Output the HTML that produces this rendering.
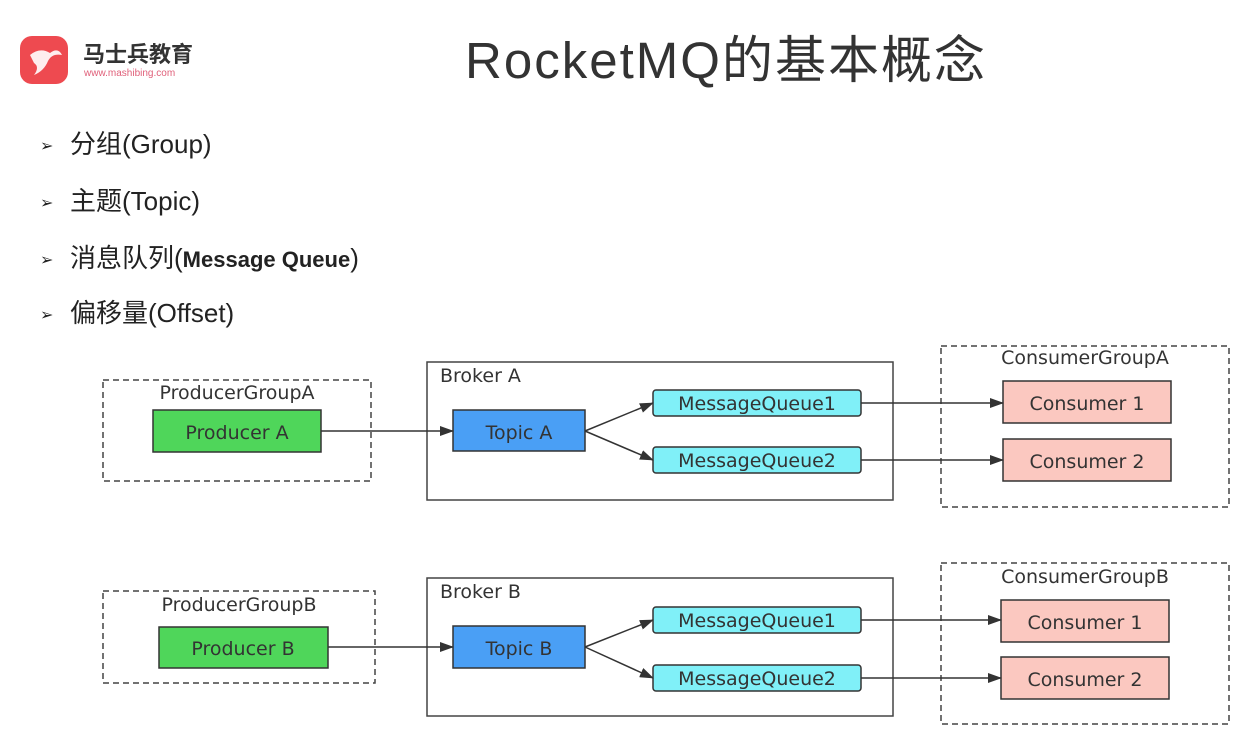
<!DOCTYPE html>
<html><head><meta charset="utf-8"><style>
body{margin:0;background:#fff;width:1240px;height:738px;overflow:hidden;font-family:"Liberation Sans","Noto Sans CJK SC",sans-serif}
</style></head><body>
<svg width="1240" height="738" xmlns="http://www.w3.org/2000/svg" style="position:absolute;left:0;top:0">
<defs><marker id="a" markerWidth="14" markerHeight="10" refX="13" refY="5" orient="auto" markerUnits="userSpaceOnUse"><path d="M0,0 L14,5 L0,10 z" fill="#333"/></marker></defs>
<rect x="20" y="36" width="48" height="48" rx="12" fill="#ee4a50"/>
<path d="M30,55 q10,-8 20,-2 q8,-6 12,2 q-10,-2 -14,6 q-4,10 -14,14 q6,-8 0,-12 z" fill="#fff" opacity="0.9"/>
<text x="83" y="62" font-size="22" font-weight="bold" fill="#333" font-family="Noto Sans CJK SC,sans-serif">马士兵教育</text>
<text x="84" y="76" font-size="10" fill="#e0607a">www.mashibing.com</text>
<text x="725" y="78" font-size="51" text-anchor="middle" fill="#333" textLength="520" font-family="Liberation Sans,Noto Sans CJK SC,sans-serif">RocketMQ的基本概念</text>
<g font-size="26" fill="#222">
<text x="40" y="151" font-size="16">➢</text><text x="70" y="153">分组(Group)</text>
<text x="40" y="208" font-size="16">➢</text><text x="70" y="210">主题(Topic)</text>
<text x="40" y="265" font-size="16">➢</text><text x="70" y="267">消息队列(<tspan font-weight="bold" font-size="22">Message Queue</tspan>)</text>
<text x="40" y="320" font-size="16">➢</text><text x="70" y="322">偏移量(Offset)</text>
</g>
<g font-family="DejaVu Sans,sans-serif" fill="none" stroke="#444" stroke-width="1.5">
<rect x="103" y="380" width="268" height="101" stroke-dasharray="6,4"/>
<rect x="427" y="362" width="466" height="138"/>
<rect x="941" y="346" width="288" height="161" stroke-dasharray="6,4"/>
<rect x="103" y="591" width="272" height="92" stroke-dasharray="6,4"/>
<rect x="427" y="578" width="466" height="138"/>
<rect x="941" y="563" width="288" height="161" stroke-dasharray="6,4"/>
</g>
<g stroke="#333" stroke-width="1.5">
<rect x="153" y="410" width="168" height="42" fill="#4fd65a"/>
<rect x="453" y="410" width="132" height="41" fill="#4a9ff5"/>
<rect x="653" y="390" width="208" height="26" rx="3" fill="#80f0f8"/>
<rect x="653" y="447" width="208" height="26" rx="3" fill="#80f0f8"/>
<rect x="1003" y="381" width="168" height="42" fill="#fbc8c0"/>
<rect x="1003" y="439" width="168" height="42" fill="#fbc8c0"/>
<rect x="159" y="627" width="169" height="41" fill="#4fd65a"/>
<rect x="453" y="626" width="132" height="42" fill="#4a9ff5"/>
<rect x="653" y="607" width="208" height="26" rx="3" fill="#80f0f8"/>
<rect x="653" y="665" width="208" height="26" rx="3" fill="#80f0f8"/>
<rect x="1001" y="600" width="168" height="42" fill="#fbc8c0"/>
<rect x="1001" y="657" width="168" height="42" fill="#fbc8c0"/>
</g>
<g stroke="#333" stroke-width="1.5" marker-end="url(#a)">
<line x1="321" y1="431" x2="453" y2="431"/>
<line x1="585" y1="431" x2="653" y2="403"/>
<line x1="585" y1="431" x2="653" y2="460"/>
<line x1="861" y1="403" x2="1003" y2="403"/>
<line x1="861" y1="460" x2="1003" y2="460"/>
<line x1="328" y1="647" x2="453" y2="647"/>
<line x1="585" y1="647" x2="653" y2="620"/>
<line x1="585" y1="647" x2="653" y2="678"/>
<line x1="861" y1="620" x2="1001" y2="620"/>
<line x1="861" y1="678" x2="1001" y2="678"/>
</g>
<g font-family="DejaVu Sans,sans-serif" font-size="19" fill="#333">
<text x="237" y="399" text-anchor="middle">ProducerGroupA</text>
<text x="440" y="382">Broker A</text>
<text x="1085" y="364" text-anchor="middle">ConsumerGroupA</text>
<text x="237" y="439" text-anchor="middle">Producer A</text>
<text x="519" y="439" text-anchor="middle">Topic A</text>
<text x="757" y="410" text-anchor="middle">MessageQueue1</text>
<text x="757" y="467" text-anchor="middle">MessageQueue2</text>
<text x="1087" y="410" text-anchor="middle">Consumer 1</text>
<text x="1087" y="468" text-anchor="middle">Consumer 2</text>
<text x="239" y="611" text-anchor="middle">ProducerGroupB</text>
<text x="440" y="598">Broker B</text>
<text x="1085" y="583" text-anchor="middle">ConsumerGroupB</text>
<text x="243" y="655" text-anchor="middle">Producer B</text>
<text x="519" y="655" text-anchor="middle">Topic B</text>
<text x="757" y="627" text-anchor="middle">MessageQueue1</text>
<text x="757" y="685" text-anchor="middle">MessageQueue2</text>
<text x="1085" y="629" text-anchor="middle">Consumer 1</text>
<text x="1085" y="686" text-anchor="middle">Consumer 2</text>
</g>
</svg>
</body></html>
